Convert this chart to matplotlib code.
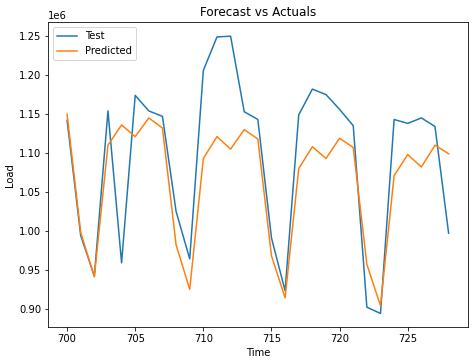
import matplotlib
matplotlib.use("Agg")
import matplotlib.pyplot as plt

# Time index and series (values in units of 1e6)
time = list(range(700, 729))
test = [1.142, 0.994, 0.942, 1.154, 0.959, 1.174, 1.154, 1.147, 1.025, 0.964,
        1.206, 1.249, 1.250, 1.153, 1.143, 0.991, 0.923, 1.149, 1.182, 1.175,
        1.156, 1.135, 0.902, 0.894, 1.143, 1.138, 1.145, 1.134, 0.997]
predicted = [1.150, 0.998, 0.941, 1.110, 1.136, 1.121, 1.145, 1.132, 0.982, 0.925,
             1.093, 1.121, 1.105, 1.130, 1.118, 0.968, 0.914, 1.080, 1.108, 1.093,
             1.119, 1.107, 0.957, 0.904, 1.071, 1.098, 1.082, 1.110, 1.099]

test = [v * 1e6 for v in test]
predicted = [v * 1e6 for v in predicted]

fig = plt.figure(figsize=(474 / 72, 363 / 72), dpi=72)
ax = fig.add_axes([48 / 474, 1 - 327.3 / 363, (467.7 - 48) / 474, (327.3 - 22.3) / 363])

ax.plot(time, test, label='Test')
ax.plot(time, predicted, label='Predicted')

ax.set_title('Forecast vs Actuals', fontsize=12)
ax.set_xlabel('Time')
ax.set_ylabel('Load')
ax.legend(loc='upper left')

fig.savefig('out.png', dpi=72)
